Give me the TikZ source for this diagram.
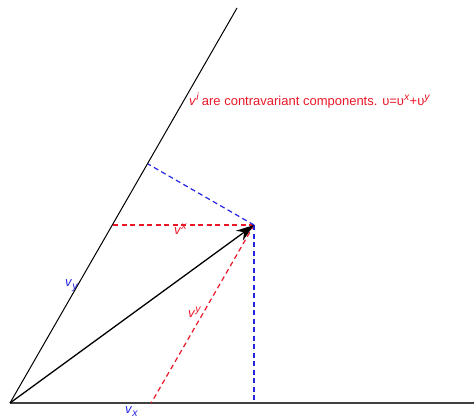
\documentclass[tikz,border=0pt]{standalone}
\usepackage{fontspec}
\setmainfont{Liberation Sans}
\usetikzlibrary{arrows.meta,calc}
\definecolor{cred}{RGB}{232,24,40}
\definecolor{cblue}{RGB}{36,36,228}
\newcommand{\mysup}[1]{\raisebox{4.5pt}{\fontsize{10.5}{11}\selectfont\textit{#1}}}
\newcommand{\mysub}[1]{\raisebox{-3pt}{\fontsize{10.5}{11}\selectfont\textit{#1}}}
\begin{document}
\begin{tikzpicture}[x=1pt,y=-1pt,
  axis/.style={line width=1pt,black},
  xaxis/.style={line width=1.6pt,black!75},
  vec/.style={line width=1.3pt,black,-{Stealth[length=18pt,width=12pt]}},
  rdash/.style={cred,line width=1.2pt,dash pattern=on 5pt off 3.5pt},
  bdash/.style={cblue,line width=1.2pt,dash pattern=on 5pt off 3.5pt},
  rlab/.style={text=cred,font=\fontsize{13}{15}\selectfont,inner sep=0pt},
  blab/.style={text=cblue,font=\fontsize{13}{15}\selectfont,inner sep=0pt}]
\useasboundingbox (0,0) rectangle (474,420);
\coordinate (O) at (10,403);
\coordinate (A) at (237,8);
\coordinate (X) at (474,403);
\coordinate (P) at (254,225);
\coordinate (Hy) at (112.8,225);
\coordinate (Hx) at (151.2,403);
\coordinate (F) at (148,164);
\coordinate (V) at (254,403);
\draw[axis] (O) -- (A);
\draw[xaxis] (O) -- (X);
\draw[rdash] (P) -- (Hy);
\draw[rdash] (P) -- (Hx);
\draw[bdash] (P) -- (F);
\draw[bdash] (P) -- (V);
\draw[vec] (O) -- (P);
\node[rlab,anchor=base west] (T) at (189,105) {\textit{v}\mysup{i}\hspace{3pt}are contravariant components. υ=υ\mysup{x}+υ\mysup{y}};
\node[rlab,anchor=base west] (LX) at (174,234) {\textit{v}\mysup{x}};
\node[rlab,anchor=base west] (LY) at (188,317) {\textit{v}\mysup{y}};
\node[blab,anchor=base west] (BY) at (65,286) {\textit{v}\mysub{y}};
\node[blab,anchor=base west] (BX) at (125,413) {\textit{v}\mysub{x}};
\end{tikzpicture}
\end{document}
